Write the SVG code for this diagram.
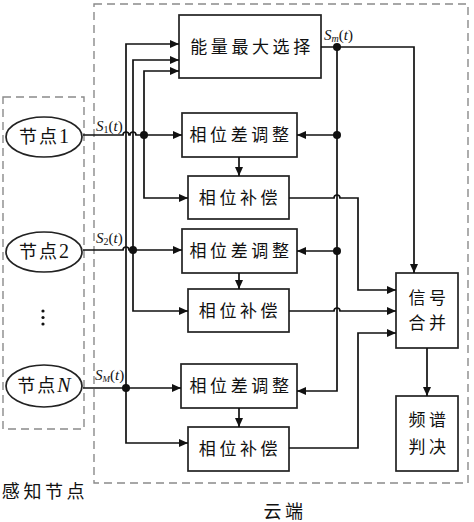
<svg xmlns="http://www.w3.org/2000/svg" width="474" height="522" viewBox="0 0 474 522">
<style>
.box{fill:#fff;stroke:#222;stroke-width:1.7}
.dash{fill:none;stroke:#8a8a8a;stroke-width:1.4;stroke-dasharray:8,5}
.ln{fill:none;stroke:#111;stroke-width:1.7}
.arr{marker-end:url(#ah)}
.cn{font-family:"Noto Sans CJK SC","Noto Sans CJK JP",sans-serif;font-size:17px;fill:#111;letter-spacing:3.6px;text-anchor:middle}
.nd{font-family:"Noto Sans CJK SC","Noto Sans CJK JP",sans-serif;font-size:18px;fill:#111;letter-spacing:2px;text-anchor:middle}
.lab{font-family:"Liberation Serif",serif;font-size:15px;fill:#111}
.dot{fill:#111}
</style>
<defs>
<marker id="ah" markerUnits="userSpaceOnUse" markerWidth="10" markerHeight="8" refX="9" refY="4" orient="auto">
<path d="M0,0 L9,4 L0,8 z" fill="#111"/>
</marker>
</defs>
<rect class="dash" x="94" y="4" width="374" height="479"/>
<rect class="dash" x="3" y="97" width="81" height="332"/>
<g id="sensing-label"><text class="cn" x="45" y="498" style="font-size:18px">感知节点</text></g>
<g id="cloud-label"><text class="cn" x="285" y="518" style="font-size:18px">云端</text></g>
<g id="node1"><ellipse class="box" cx="44" cy="137" rx="38" ry="20"/><text class="nd" x="45" y="143">节点<tspan style="font-family:'Liberation Serif',serif;font-size:20px">1</tspan></text></g>
<g id="node2"><ellipse class="box" cx="44" cy="252" rx="38" ry="20"/><text class="nd" x="45" y="258">节点<tspan style="font-family:'Liberation Serif',serif;font-size:20px">2</tspan></text></g>
<g id="ellipsis"><circle class="dot" cx="43" cy="311" r="1.6"/><circle class="dot" cx="43" cy="317.5" r="1.6"/><circle class="dot" cx="43" cy="324" r="1.6"/></g>
<g id="nodeN"><ellipse class="box" cx="44" cy="386" rx="38" ry="21"/><text class="nd" x="45" y="392">节点<tspan style="font-family:'Liberation Serif',serif;font-size:20px;font-style:italic">N</tspan></text></g>
<g id="energy-max"><rect class="box" x="179" y="15" width="142" height="63"/><text class="cn" x="252" y="53">能量最大选择</text></g>
<g id="phase-diff-1"><rect class="box" x="182" y="113" width="115" height="44"/><text class="cn" x="241" y="141">相位差调整</text></g>
<g id="phase-comp-1"><rect class="box" x="188" y="176" width="101" height="43"/><text class="cn" x="240" y="204">相位补偿</text></g>
<g id="phase-diff-2"><rect class="box" x="182" y="229" width="115" height="44"/><text class="cn" x="241" y="257">相位差调整</text></g>
<g id="phase-comp-2"><rect class="box" x="188" y="289" width="101" height="43"/><text class="cn" x="240" y="317">相位补偿</text></g>
<g id="phase-diff-N"><rect class="box" x="181" y="364" width="116" height="44"/><text class="cn" x="241" y="392">相位差调整</text></g>
<g id="phase-comp-N"><rect class="box" x="188" y="427" width="101" height="44"/><text class="cn" x="240" y="455">相位补偿</text></g>
<g id="combine"><rect class="box" x="396" y="273" width="62" height="75"/><text class="cn" x="429" y="304">信号</text><text class="cn" x="429" y="329">合并</text></g>
<g id="decision"><rect class="box" x="396" y="396" width="62" height="75"/><text class="cn" x="429" y="426">频谱</text><text class="cn" x="429" y="453">判决</text></g>
<g id="connectors">
<path class="ln arr" d="M83,135 H123 a3,3 0 0 1 6,0 H130 a3,3 0 0 1 6,0 H182"/>
<path class="ln arr" d="M144,135 V71 H179"/>
<path class="ln arr" d="M144,135 V198 H188"/>
<path class="ln arr" d="M83,250 H123 a3,3 0 0 1 6,0 H182"/>
<path class="ln arr" d="M133,250 V60 H179"/>
<path class="ln arr" d="M133,250 V311 H188"/>
<path class="ln arr" d="M83,388 H181"/>
<path class="ln arr" d="M126,388 V44 H179"/>
<path class="ln arr" d="M126,388 V443 H188"/>
<path class="ln arr" d="M239,157 V176"/>
<path class="ln arr" d="M239,273 V289"/>
<path class="ln arr" d="M239,408 V427"/>
<path class="ln arr" d="M321,47 H414 V273"/>
<path class="ln arr" d="M337,47 V391 H297"/>
<path class="ln arr" d="M337,135 H297"/>
<path class="ln arr" d="M337,251 H297"/>
<path class="ln arr" d="M289,198 H334 a3,3 0 0 1 6,0 H358 V290 H396"/>
<path class="ln arr" d="M289,311 H334 a3,3 0 0 1 6,0 H396"/>
<path class="ln arr" d="M289,448 H358 V333 H396"/>
<path class="ln arr" d="M427,348 V396"/>
<circle class="dot" cx="144" cy="135" r="4"/>
<circle class="dot" cx="133" cy="250" r="4"/>
<circle class="dot" cx="126" cy="388" r="4"/>
<circle class="dot" cx="337" cy="47" r="4"/>
<circle class="dot" cx="337" cy="135" r="4"/>
<circle class="dot" cx="337" cy="251" r="4"/>
<text class="lab" x="96" y="131"><tspan font-style="italic">S</tspan><tspan font-size="10" dy="2">1</tspan><tspan dy="-2">(</tspan><tspan font-style="italic">t</tspan>)</text>
<text class="lab" x="96" y="243"><tspan font-style="italic">S</tspan><tspan font-size="10" dy="2">2</tspan><tspan dy="-2">(</tspan><tspan font-style="italic">t</tspan>)</text>
<text class="lab" x="95" y="380"><tspan font-style="italic">S</tspan><tspan font-size="9" dy="2" font-style="italic">M</tspan><tspan dy="-2">(</tspan><tspan font-style="italic">t</tspan>)</text>
<text class="lab" x="324" y="40"><tspan font-style="italic">S</tspan><tspan font-size="10" dy="2" font-style="italic">m</tspan><tspan dy="-2">(</tspan><tspan font-style="italic">t</tspan>)</text>
</g>
</svg>
